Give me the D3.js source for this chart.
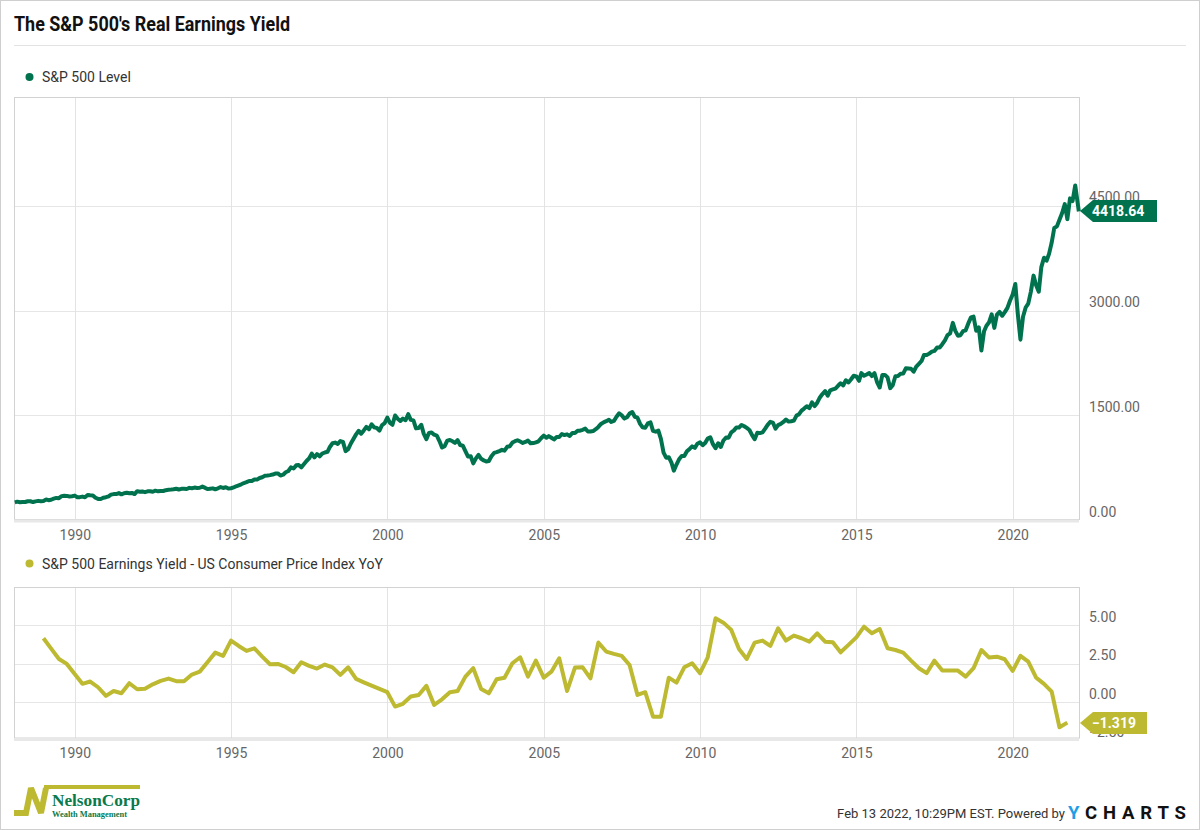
<!DOCTYPE html>
<html lang="en">
<head>
  <meta charset="utf-8">
  <title>The S&amp;P 500's Real Earnings Yield</title>
  <script src="https://cdn.jsdelivr.net/npm/d3@7"></script>
  <style>
    body { margin: 0; background: #fff; }
    svg { display: block; font-family: Roboto, "Noto Sans", sans-serif; }
  </style>
</head>
<body>
<div id="chart"></div>
<script>

// S&P 500 level, month-end values (Jan 1988 onwards)
const spx1988_1995 = [
  257, 267, 258, 261, 262, 273, 272, 261, 271, 278, 273, 277,
  297, 288, 294, 309, 320, 317, 346, 351, 349, 340, 345, 353,
  329, 331, 339, 330, 361, 358, 356, 322, 306, 304, 322, 330,
  343, 367, 375, 375, 389, 371, 387, 395, 387, 392, 375, 417,
  408, 412, 403, 414, 415, 408, 424, 414, 418, 419, 431, 436,
  439, 443, 451, 440, 450, 451, 448, 464, 459, 468, 462, 466,
  482, 467, 446, 451, 457, 444, 458, 475, 463, 472, 454, 459,
  470, 487, 501, 515, 533, 545, 562, 562, 584, 582, 605, 616
];
const spx1996_2003 = [
  636, 640, 646, 654, 669, 671, 640, 652, 687, 705, 757, 741,
  786, 791, 757, 801, 848, 885, 954, 899, 947, 915, 955, 970,
  980, 1049, 1102, 1112, 1091, 1134, 1121, 990, 1017, 1099, 1164, 1229,
  1280, 1238, 1286, 1335, 1302, 1373, 1329, 1320, 1283, 1363, 1389, 1469,
  1394, 1366, 1499, 1452, 1421, 1455, 1431, 1518, 1437, 1429, 1315, 1320,
  1366, 1240, 1160, 1249, 1256, 1224, 1211, 1134, 1041, 1060, 1139, 1148,
  1130, 1107, 1147, 1077, 1067, 990, 912, 916, 815, 886, 936, 880,
  856, 841, 848, 917, 964, 975, 990, 1008, 996, 1051, 1058, 1112
];
const spx2004_2011 = [
  1131, 1145, 1126, 1107, 1121, 1141, 1102, 1104, 1115, 1130, 1174, 1212,
  1181, 1204, 1181, 1157, 1192, 1191, 1234, 1220, 1229, 1207, 1249, 1248,
  1280, 1281, 1295, 1311, 1270, 1270, 1277, 1304, 1336, 1378, 1401, 1418,
  1438, 1407, 1421, 1482, 1531, 1503, 1455, 1474, 1527, 1549, 1481, 1468,
  1379, 1331, 1323, 1386, 1400, 1280, 1267, 1283, 1166, 969, 896, 903,
  826, 710, 798, 873, 919, 919, 987, 1021, 1057, 1036, 1096, 1115,
  1074, 1104, 1169, 1187, 1089, 1031, 1102, 1049, 1141, 1183, 1181, 1258,
  1286, 1327, 1326, 1364, 1345, 1321, 1292, 1219, 1160, 1253, 1247, 1258
];
const spx2012_2019 = [
  1312, 1366, 1408, 1398, 1310, 1362, 1379, 1407, 1441, 1412, 1416, 1426,
  1498, 1515, 1569, 1598, 1631, 1606, 1686, 1633, 1682, 1757, 1806, 1848,
  1783, 1859, 1872, 1884, 1924, 1960, 1931, 2003, 1972, 2018, 2068, 2059,
  1995, 2105, 2068, 2086, 2107, 2063, 2104, 1972, 1900, 2079, 2080, 2044,
  1890, 1932, 2060, 2065, 2097, 2099, 2174, 2171, 2168, 2126, 2199, 2239,
  2279, 2364, 2363, 2384, 2412, 2423, 2470, 2472, 2519, 2575, 2648, 2674,
  2824, 2714, 2641, 2648, 2705, 2718, 2816, 2902, 2914, 2712, 2760, 2430,
  2704, 2784, 2834, 2946, 2752, 2942, 2980, 2926, 2977, 3038, 3141, 3231
];
const spx2020_2022 = [
  3380, 2954, 2584, 2912, 3044, 3100, 3271, 3500, 3363, 3270, 3622, 3756,
  3714, 3811, 3973, 4181, 4204, 4298, 4395, 4523, 4308, 4605, 4567, 4790,
  4516
];
const spxLastDate = "2022-02-11";
const spxLastValue = 4418.64;

// earnings yield minus CPI yoy, quarter ends from Dec 1988
const ey1988_1999 = [
  4.14, 3.47, 2.80, 2.48, 1.83, 1.19, 1.34, 0.97, 0.41, 0.73, 0.58, 1.23,
  0.84, 0.88, 1.16, 1.38, 1.53, 1.36, 1.36, 1.79, 1.98, 2.59, 3.21, 3.00,
  3.99, 3.64, 3.32, 3.49, 2.95, 2.46, 2.48, 2.28, 1.94, 2.59, 2.35, 2.18,
  2.44, 2.26, 1.77, 2.26, 1.51, 1.29, 1.08, 0.86, 0.65
];
const ey2000_2009 = [
  -0.28, -0.10, 0.37, 0.47, 1.06, -0.17, 0.19, 0.65, 0.73, 1.66,
  2.20, 0.86, 0.58, 1.49, 1.59, 2.52, 2.91, 1.66, 2.69, 1.59,
  1.98, 2.84, 0.73, 2.24, 2.26, 1.55, 3.86, 3.28, 3.13, 3.00,
  2.41, 0.47, 0.65, -0.93, -0.93, 1.59, 1.27, 2.26, 2.52, 1.88
];
const ey2010_2019 = [
  2.91, 5.43, 5.15, 4.68, 3.45, 2.80, 3.86, 3.99, 3.64, 4.78,
  3.99, 4.31, 4.14, 3.92, 4.46, 3.92, 3.88, 3.23, 3.71, 4.20,
  4.89, 4.46, 4.74, 3.49, 3.38, 3.21, 2.69, 2.20, 1.88, 2.69,
  2.05, 2.05, 2.05, 1.66, 2.20, 3.38, 2.89, 2.95, 2.78, 2.03
];
const ey2020_2021 = [3.00, 2.63, 1.59, 1.19, 0.69, -1.62, -1.319];

// axis ticks
const yearTicks = [1990, 1995, 2000, 2005, 2010, 2015, 2020];
const spxTicks = [0, 1500, 3000, 4500];
const eyTicks = [-2.5, 0, 2.5, 5];

const title = "The S&P 500's Real Earnings Yield";
const spxName = "S&P 500 Level";
const eyName = "S&P 500 Earnings Yield - US Consumer Price Index YoY";
const stamp = "Feb 13 2022, 10:29PM EST. Powered by";

const green = "#00734e", olive = "#bdba31";

// build the two series
const spxValues = [].concat(spx1988_1995, spx1996_2003, spx2004_2011, spx2012_2019, spx2020_2022);
const spxData = spxValues.map((v, i) => ({ date: new Date(Date.UTC(1988, i + 1, 0)), value: v }));
spxData.push({ date: new Date(spxLastDate), value: spxLastValue });

const eyValues = [].concat(ey1988_1999, ey2000_2009, ey2010_2019, ey2020_2021);
const eyData = eyValues.map((v, i) => ({ date: new Date(Date.UTC(1988, 12 + 3 * i, 0)), value: v }));

// layout
var W = 1200, H = 830;
var plotL = 14, plotR = 1079;
var top1 = 97, bot1 = 520;
var top2 = 587, bot2 = 738.5;

const svg = d3.select("#chart")
  .append("svg")
    .attr("width", W)
    .attr("height", H);

svg.append("rect")
  .attr("x", 0.5).attr("y", 0.5)
  .attr("width", W - 1).attr("height", H - 1)
  .attr("fill", "#fff").attr("stroke", "#cfcfcf");

// title + rule
svg.append("text")
  .attr("x", 14).attr("y", 31)
  .attr("font-size", 21).attr("font-weight", 700).attr("fill", "#111")
  .attr("textLength", 276).attr("lengthAdjust", "spacingAndGlyphs")
  .text(title);

svg.append("line")
  .attr("x1", 14).attr("x2", 1186).attr("y1", 45.5).attr("y2", 45.5)
  .attr("stroke", "#e2e2e2");

// scales
const x = d3.scaleUtc()
  .domain([new Date(Date.UTC(1988, 0, 22)), new Date(Date.UTC(2022, 1, 13))])
  .range([plotL, plotR]);
const y1 = d3.scaleLinear().domain([0, 4500]).range([520.3, 205.7]);
const y2 = d3.scaleLinear().domain([-2.5, 7.5]).range([740.9, 586.3]);

const yearDates = yearTicks.map(y => new Date(Date.UTC(y, 0, 1)));

function panel(yScale, ticks, top, bot, fmt) {
  const g = svg.append("g");

  // horizontal grid
  g.selectAll(".hgrid")
    .data(ticks.filter(t => yScale(t) > top + 2 && yScale(t) < bot - 2))
    .enter().append("line")
      .attr("x1", plotL).attr("x2", plotR)
      .attr("y1", d => Math.round(yScale(d)) + 0.5)
      .attr("y2", d => Math.round(yScale(d)) + 0.5)
      .attr("stroke", "#e6e6e6");

  // vertical grid
  g.selectAll(".vgrid")
    .data(yearDates)
    .enter().append("line")
      .attr("x1", d => Math.round(x(d)) + 0.5)
      .attr("x2", d => Math.round(x(d)) + 0.5)
      .attr("y1", top).attr("y2", bot)
      .attr("stroke", "#e3e3e3");

  // frame + axis band
  g.append("rect")
    .attr("x", plotL + 0.5).attr("y", top + 0.5)
    .attr("width", plotR - plotL).attr("height", bot - top - 1)
    .attr("fill", "none").attr("stroke", "#d2d2d2");
  g.append("line")
    .attr("x1", plotL).attr("x2", plotR)
    .attr("y1", bot + 1).attr("y2", bot + 1)
    .attr("stroke", "#e8e8e8").attr("stroke-width", 3);

  // bottom year labels
  g.append("g")
    .attr("transform", `translate(0, ${bot})`)
    .call(d3.axisBottom(x).tickValues(yearDates).tickFormat(d3.utcFormat("%Y")).tickSize(0).tickPadding(10))
    .call(a => a.select(".domain").remove())
    .selectAll("text")
      .attr("font-family", "Roboto, sans-serif")
      .attr("font-size", 14)
      .attr("fill", "#666");

  // right value labels (sit just above their grid line)
  g.append("g")
    .attr("transform", `translate(${plotR}, 0)`)
    .call(d3.axisRight(yScale).tickValues(ticks).tickFormat(fmt).tickSize(0).tickPadding(10))
    .call(a => a.select(".domain").remove())
    .selectAll("text")
      .attr("dy", "-0.28em")
      .attr("font-family", "Roboto, sans-serif")
      .attr("font-size", 14)
      .attr("fill", "#666");
}

panel(y1, spxTicks, top1, bot1, d3.format(".2f"));
panel(y2, eyTicks, top2, bot2, d3.format(".2f"));

// legends
function legend(yPos, color, label) {
  svg.append("circle").attr("cx", 29.5).attr("cy", yPos).attr("r", 4).attr("fill", color);
  svg.append("text")
    .attr("x", 42).attr("y", yPos + 5)
    .attr("font-size", 14).attr("fill", "#333")
    .text(label);
}
legend(77, green, spxName);
legend(563.5, olive, eyName);

// lines
svg.append("path")
  .datum(spxData)
  .attr("d", d3.line().x(d => x(d.date)).y(d => y1(d.value)))
  .attr("fill", "none")
  .attr("stroke", green)
  .attr("stroke-width", 4)
  .attr("stroke-linejoin", "round");

svg.append("path")
  .datum(eyData)
  .attr("d", d3.line().x(d => x(d.date)).y(d => y2(d.value)))
  .attr("fill", "none")
  .attr("stroke", olive)
  .attr("stroke-width", 4)
  .attr("stroke-linejoin", "round");

// last value flags
function flag(yPos, color, label, w) {
  const cy = Math.round(yPos);
  svg.append("path")
    .attr("d", `M${plotR + 1},${cy} L${plotR + 14},${cy - 11} L${plotR + 14 + w},${cy - 11} L${plotR + 14 + w},${cy + 11} L${plotR + 14},${cy + 11} Z`)
    .attr("fill", color);
  svg.append("text")
    .attr("x", plotR + 13).attr("y", cy + 5)
    .attr("font-size", 14).attr("font-weight", 700).attr("fill", "#fff")
    .text(label);
}
flag(y1(spxLastValue), green, d3.format(".2f")(spxLastValue), 64);
flag(y2(eyValues[eyValues.length - 1]), olive, d3.format(".3f")(eyValues[eyValues.length - 1]), 54);

// footer: NelsonCorp logo (stylised N + top bar)
svg.append("polyline")
  .attr("points", "14,813 26,813 31,788 41,813 46,788")
  .attr("fill", "none").attr("stroke", olive)
  .attr("stroke-width", 6).attr("stroke-linejoin", "miter").attr("stroke-miterlimit", 2);
svg.append("line")
  .attr("x1", 44).attr("x2", 140).attr("y1", 787).attr("y2", 787)
  .attr("stroke", olive).attr("stroke-width", 4);
svg.append("text")
  .attr("x", 52).attr("y", 806)
  .attr("font-family", "'Liberation Serif', 'DejaVu Serif', serif")
  .attr("font-size", 17).attr("font-weight", 700).attr("fill", "#0b7a4a")
  .attr("textLength", 88).attr("lengthAdjust", "spacingAndGlyphs")
  .text("NelsonCorp");
svg.append("text")
  .attr("x", 52).attr("y", 816.5)
  .attr("font-family", "'Liberation Serif', 'DejaVu Serif', serif")
  .attr("font-size", 8.5).attr("font-weight", 700).attr("fill", "#0b7a4a")
  .attr("textLength", 75).attr("lengthAdjust", "spacingAndGlyphs")
  .text("Wealth Management");

// footer: timestamp + ycharts
svg.append("text")
  .attr("x", 1065).attr("y", 818)
  .attr("text-anchor", "end")
  .attr("font-size", 13).attr("fill", "#333")
  .text(stamp);

const yc = svg.append("text")
  .attr("x", 1068).attr("y", 818.5)
  .attr("font-size", 18.5).attr("font-weight", 700)
  .attr("textLength", 118).attr("lengthAdjust", "spacing");
yc.append("tspan").attr("fill", "#1e9ee6").text("Y");
yc.append("tspan").attr("fill", "#111").text("CHARTS");

</script>
